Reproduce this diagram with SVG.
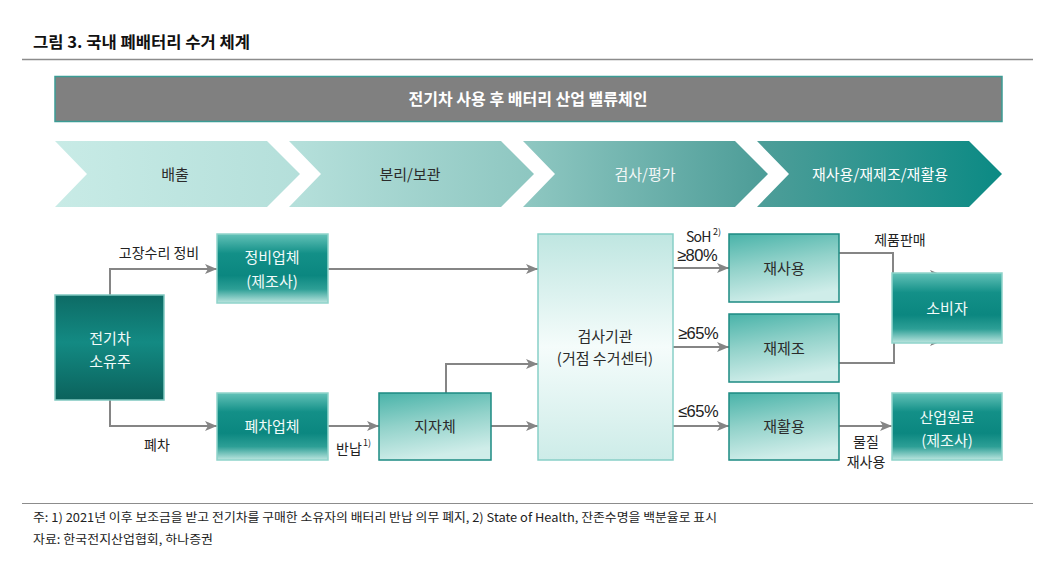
<svg xmlns="http://www.w3.org/2000/svg" width="1058" height="575" viewBox="0 0 1058 575">
<defs>
<style>
text{font-family:"Noto Sans CJK KR","Liberation Sans",sans-serif;}
.node{font-size:15px;text-anchor:middle;}
.w{fill:#f2fbfa;}
.d{fill:#2b2b2b;}
.lbl{font-size:14px;fill:#222;text-anchor:middle;}
.pct{font-family:"Liberation Sans","Noto Sans CJK KR",sans-serif;font-size:16.5px;fill:#222;letter-spacing:-0.5px;}
.conn{fill:none;stroke:#858585;stroke-width:2;marker-end:url(#arr);}
.dark{fill:url(#gDark);stroke:#8fd3ca;stroke-width:1.5;}
.light{fill:url(#gLight);stroke:#1d8a82;stroke-width:1.5;}
.chev{fill:url(#gChev);}
.ct{font-size:15px;text-anchor:middle;}
</style>
<marker id="arr" markerUnits="userSpaceOnUse" markerWidth="12" markerHeight="10" refX="12" refY="5" orient="auto">
<path d="M0,0 L12,5 L0,10 L3,5 Z" fill="#858585"/>
</marker>
<linearGradient id="gDark" x1="0" y1="0" x2="0" y2="1">
<stop offset="0" stop-color="#63c2b8"/>
<stop offset="0.28" stop-color="#139088"/>
<stop offset="0.6" stop-color="#0b8780"/>
<stop offset="0.8" stop-color="#2d9f96"/>
<stop offset="1" stop-color="#bde6e0"/>
</linearGradient>
<linearGradient id="gOwner" x1="0" y1="0" x2="0" y2="1">
<stop offset="0" stop-color="#0d6b65"/>
<stop offset="0.45" stop-color="#138a83"/>
<stop offset="1" stop-color="#0b625c"/>
</linearGradient>
<linearGradient id="gLight" x1="0" y1="0" x2="0.25" y2="1">
<stop offset="0" stop-color="#49b3a9"/>
<stop offset="0.5" stop-color="#92d2ca"/>
<stop offset="1" stop-color="#cfede9"/>
</linearGradient>
<linearGradient id="gInspect" x1="0" y1="0" x2="0" y2="1">
<stop offset="0" stop-color="#bfe6e1"/>
<stop offset="0.5" stop-color="#f5fcfb"/>
<stop offset="1" stop-color="#cdece8"/>
</linearGradient>
<linearGradient id="gChev" gradientUnits="userSpaceOnUse" x1="55" y1="0" x2="1002" y2="0">
<stop offset="0" stop-color="#c8ebe6"/>
<stop offset="0.26" stop-color="#b4dfda"/>
<stop offset="0.5" stop-color="#8ec7c1"/>
<stop offset="0.74" stop-color="#4f9e99"/>
<stop offset="1" stop-color="#0b8a84"/>
</linearGradient>
</defs>
<rect width="1058" height="575" fill="#ffffff"/>

<text x="33" y="48" font-size="16" font-weight="bold" fill="#111" textLength="217" lengthAdjust="spacingAndGlyphs">그림 3. 국내 폐배터리 수거 체계</text>
<line x1="22" y1="59.5" x2="1033" y2="59.5" stroke="#8c8c8c" stroke-width="1.5"/>

<g id="header">
<rect x="55" y="76.5" width="947" height="45" fill="#808080" stroke="#3b9c95" stroke-width="1.5"/>
<text x="528" y="105" font-size="16" font-weight="bold" fill="#ffffff" text-anchor="middle">전기차 사용 후 배터리 산업 밸류체인</text>
</g>

<g id="stages">
<g id="stage1"><polygon class="chev" points="55,141 267,141 300,174 267,207 55,207 87,174"/><text class="ct" x="175" y="180" fill="#2b2b2b">배출</text></g>
<g id="stage2"><polygon class="chev" points="289,141 501,141 534,174 501,207 289,207 321,174"/><text class="ct" x="410" y="180" fill="#2b2b2b">분리/보관</text></g>
<g id="stage3"><polygon class="chev" points="523,141 735,141 768,174 735,207 523,207 555,174"/><text class="ct" x="645" y="180" fill="#f3f7f7">검사/평가</text></g>
<g id="stage4"><polygon class="chev" points="757,141 969,141 1002,174 969,207 757,207 789,174"/><text class="ct" x="880" y="180" fill="#ffffff">재사용/재제조/재활용</text></g>
</g>

<g id="connectors">
<path class="conn" d="M110,295 V269 H217"/>
<path class="conn" d="M110,400 V426 H217"/>
<path class="conn" d="M328,269 H538"/>
<path class="conn" d="M328,426 H379" stroke-width="2.5"/>
<path class="conn" d="M446,393 V364 H538"/>
<path class="conn" d="M491,426 H538"/>
<path class="conn" d="M673,268 H729"/>
<path class="conn" d="M673,347 H729"/>
<path class="conn" d="M673,426 H729"/>
<path class="conn" d="M839,253 H893 V275 H942"/>
<path class="conn" d="M839,363 H894 V341 H942"/>
<path class="conn" d="M839,426 H892"/>
</g>

<g id="labels">
<text class="lbl" x="159" y="258">고장수리 정비</text>
<text class="lbl" x="157" y="450">폐차</text>
<text class="lbl" x="349" y="454">반납</text><text x="363" y="446" font-size="9" fill="#222">1)</text>
<text x="686" y="242" font-family="Liberation Sans, sans-serif" font-size="14" fill="#222" letter-spacing="-0.8">SoH</text><text x="713" y="235" font-size="9" fill="#222">2)</text>
<text class="pct" x="677" y="261">≥80%</text>
<text class="pct" x="678" y="339">≥65%</text>
<text class="pct" x="678" y="417">≤65%</text>
<text class="lbl" x="900" y="245">제품판매</text>
<text class="lbl" x="866" y="447">물질</text>
<text class="lbl" x="866" y="467">재사용</text>
</g>

<g id="owner">
<rect x="55" y="295" width="109" height="105" fill="url(#gOwner)" stroke="#7fc8c0" stroke-width="1.5"/>
<text class="node w" x="110" y="344">전기차</text>
<text class="node w" x="110" y="367">소유주</text>
</g>
<g id="repair">
<rect x="217" y="234" width="111" height="69" class="dark"/>
<text class="node w" x="272" y="263">정비업체</text>
<text class="node w" x="272" y="287">(제조사)</text>
</g>
<g id="scrap">
<rect x="217" y="393" width="111" height="67" class="dark"/>
<text class="node w" x="272" y="432">폐차업체</text>
</g>
<g id="local">
<rect x="379" y="393" width="112" height="67" class="light"/>
<text class="node d" x="435" y="432">지자체</text>
</g>
<g id="inspect">
<rect x="538" y="234" width="135" height="226" fill="url(#gInspect)" stroke="#88cfc7" stroke-width="1.5"/>
<text class="node d" x="605" y="342">검사기관</text>
<text class="node d" x="605" y="364">(거점 수거센터)</text>
</g>
<g id="reuse">
<rect x="729" y="234" width="110" height="68" class="light"/>
<text class="node d" x="784" y="274">재사용</text>
</g>
<g id="reman">
<rect x="729" y="314" width="110" height="68" class="light"/>
<text class="node d" x="784" y="354">재제조</text>
</g>
<g id="recycle">
<rect x="729" y="393" width="110" height="67" class="light"/>
<text class="node d" x="784" y="432">재활용</text>
</g>
<g id="consumer">
<rect x="892" y="273" width="110" height="70" class="dark"/>
<text class="node w" x="947" y="314">소비자</text>
</g>
<g id="material">
<rect x="892" y="393" width="110" height="67" class="dark"/>
<text class="node w" x="947" y="423">산업원료</text>
<text class="node w" x="947" y="446">(제조사)</text>
</g>

<line x1="22" y1="503.5" x2="1033" y2="503.5" stroke="#8c8c8c" stroke-width="1.2"/>
<text x="33" y="522" font-size="12" fill="#222" textLength="684" lengthAdjust="spacingAndGlyphs">주: 1) 2021년 이후 보조금을 받고 전기차를 구매한 소유자의 배터리 반납 의무 폐지, 2) State of Health, 잔존수명을 백분율로 표시</text>
<text x="33" y="544" font-size="12" fill="#222" textLength="180" lengthAdjust="spacingAndGlyphs">자료: 한국전지산업협회, 하나증권</text>
</svg>
